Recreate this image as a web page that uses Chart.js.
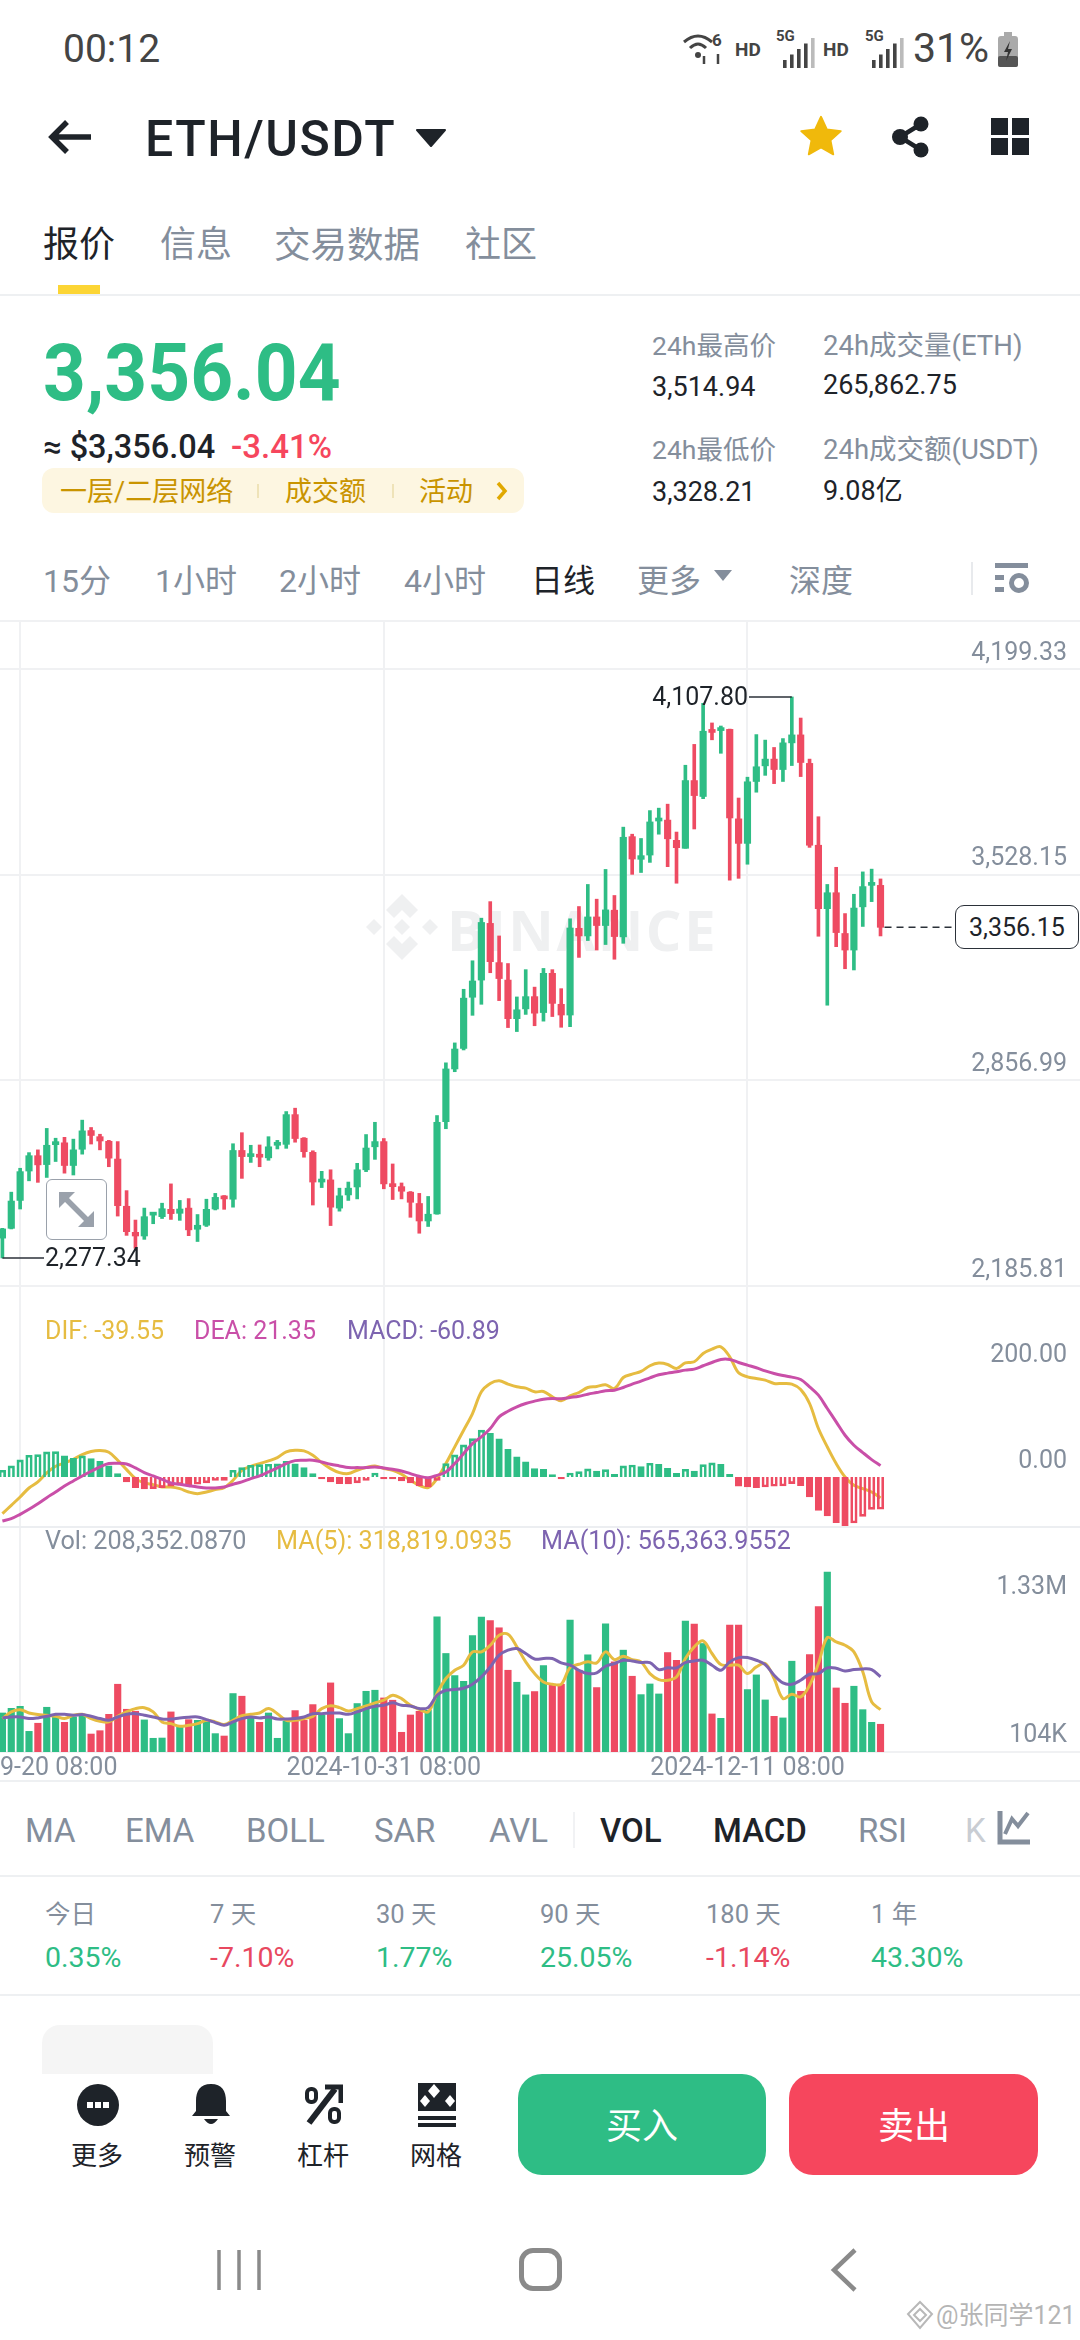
<!DOCTYPE html>
<html>
<head>
<meta charset="utf-8">
<script src="https://cdn.jsdelivr.net/npm/chart.js@4"></script>
<style>
  html, body { margin: 0; padding: 0; background: #fff; }
  #page { position: relative; width: 1080px; height: 2340px; overflow: hidden; background: #fff;
    font-family: Roboto, 'Noto Sans CJK SC', sans-serif; }
  #page canvas, #page svg, .t, .box { position: absolute; }
  .t { white-space: nowrap; transform: translateY(-50%); line-height: 1.2; }
  .box { box-sizing: border-box; }
</style>
</head>
<body>
<div id="page">
  <svg id="mark" style="left:362px;top:892px" width="80" height="70" viewBox="0 0 80 70" fill="#eff0f1">
    <path d="M40 2 L56 18 L48 26 L40 18 L32 26 L24 18 Z"/>
    <path d="M40 68 L24 52 L32 44 L40 52 L48 44 L56 52 Z"/>
    <path d="M12 27 L20 35 L12 43 L4 35 Z"/>
    <path d="M68 27 L76 35 L68 43 L60 35 Z"/>
    <path d="M40 27 L48 35 L40 43 L32 35 Z"/>
  </svg>
  <div class="t" style="left:447px;top:930px;font-size:56px;font-weight:700;letter-spacing:2.6px;color:#eff0f1;font-family:'Open Sans',Roboto">BINANCE</div>
  <canvas id="priceChart" width="1080" height="667" style="left:0;top:620px"></canvas>
  <canvas id="macdChart" width="1080" height="241" style="left:0;top:1286px"></canvas>
  <canvas id="volChart" width="1080" height="253" style="left:0;top:1527px"></canvas>
</div>

<script>
'use strict';

const GREEN = '#2EBD85';
const RED = '#EE4B62';
const GRID = '#F0F1F3';
const GRAY = '#848E9C';
const DARK = '#1E2329';
const YELLOW = '#E6BC41';
const PINK = '#C94FA8';
const PURPLE = '#7D64B0';

// daily candles, 2024-09-18 to 2024-12-26
const opens = [2342,2374,2465,2561,2611,2582,2647,2653,2579,2632,2693,2673,2658,2600,2446,2361,2349,2417,2412,2436,
  2423,2440,2371,2384,2437,2478,2469,2628,2608,2612,2604,2645,2648,2745,2668,2622,2525,2532,2440,2483,
  2509,2565,2640,2657,2518,2510,2492,2455,2398,2421,2722,2894,2961,3128,3184,3369,3241,3184,3058,3090,
  3130,3078,3206,3105,3070,3353,3328,3390,3362,3412,3325,3652,3578,3592,3703,3706,3640,3614,3835,3783,
  3997,3998,4002,3710,3630,3832,3883,3905,3871,3958,3984,3891,3624,3417,3469,3336,3282,3423,3493,3493];
const highs = [2374,2492,2570,2621,2630,2700,2668,2671,2665,2727,2703,2681,2661,2657,2497,2401,2440,2425,2456,2519,
  2465,2471,2419,2469,2488,2481,2650,2686,2645,2646,2673,2661,2755,2766,2670,2627,2560,2565,2505,2525,
  2586,2680,2720,2667,2584,2522,2494,2488,2478,2742,2914,2979,3154,3247,3386,3440,3328,3238,3129,3218,
  3161,3222,3218,3156,3384,3424,3496,3448,3545,3460,3683,3660,3646,3737,3745,3758,3667,3885,3953,4087,
  4023,4013,4003,3778,3846,3985,3967,3943,3972,4107.8,4039,3905,3717,3496,3552,3401,3464,3537,3546,3514];
const lows = [2277.34,2372,2437,2529,2524,2540,2592,2554,2548,2616,2649,2630,2575,2414,2351,2309,2338,2389,2406,2403,
  2400,2350,2331,2380,2434,2436,2443,2537,2589,2575,2596,2633,2635,2655,2606,2450,2507,2383,2430,2465,
  2470,2559,2599,2503,2468,2470,2410,2358,2380,2420,2699,2885,2956,3069,3105,3208,3117,3029,3016,3072,
  3035,3050,3065,3030,3032,3258,3313,3282,3300,3252,3304,3529,3535,3568,3660,3554,3500,3614,3677,3776,
  3968,3924,3510,3516,3562,3797,3852,3825,3832,3884,3848,3617,3327,3102,3293,3221,3217,3359,3440,3328];
const closes = [2372,2463,2559,2611,2581,2645,2654,2579,2630,2692,2677,2659,2603,2448,2363,2349,2412,2422,2438,2422,
  2437,2369,2384,2436,2475,2470,2628,2608,2615,2606,2640,2650,2745,2667,2624,2525,2532,2443,2480,2505,
  2565,2636,2657,2519,2510,2495,2459,2398,2420,2720,2894,2959,3125,3181,3372,3244,3189,3058,3087,3130,
  3076,3206,3108,3070,3354,3328,3390,3362,3413,3326,3650,3579,3590,3700,3710,3645,3616,3835,3786,3996,
  3992,4003,3713,3630,3831,3880,3905,3871,3958,3984,3894,3624,3417,3469,3339,3282,3419,3489,3500,3356.15];

const macd = [12.6,20.8,32.1,40.9,42.1,47.2,47.8,39.6,35.2,39.6,34.6,29.6,20.8,6.3,-9.4,-20.1,-22.6,-22.0,-20.1,-17.6,
  -14.5,-15.1,-13.8,-11.3,-6.3,-6.3,12.6,17.6,22.0,23.3,23.9,24.5,29.6,24.5,17.6,6.3,-3.1,-9.4,-12.6,-13.2,
  -11.3,-6.3,7.5,-3.1,-3.1,-7.5,-11.3,-17.0,-18.9,-6.3,25.2,41.5,60.4,72.3,88.1,82.4,71.7,52.2,37.7,28.3,
  15.7,14.5,4.4,-3.8,7.5,10.1,15.1,11.3,13.8,5.0,20.8,22.6,19.5,25.8,23.9,16.4,6.9,14.5,11.3,23.3,
  26.4,23.9,5.0,-17.6,-18.9,-20.1,-18.9,-17.6,-17.0,-12.6,-16.4,-37.7,-62.9,-73.6,-86.2,-94.3,-86.8,-74.2,-61.0,-60.89];
const dif = [-69.2,-53.5,-37.7,-20.8,-9.4,7.5,20.1,26.4,33.3,42.1,47.8,49.7,46.5,31.5,13.8,-3.1,-11.3,-14.5,-18.9,-18.9,
  -22.0,-28.3,-31.5,-28.3,-23.9,-20.1,-6.3,12.6,20.1,25.2,30.2,36.5,47.2,50.3,49.1,40.9,27.0,15.7,8.2,6.3,
  12.6,17.6,20.8,15.7,12.6,5.0,-6.3,-15.7,-20.1,-3.1,25.2,56.6,88.1,119.5,160.4,176.1,181.2,174.9,169.8,167.3,
  160.4,161.0,151.0,143.4,152.8,159.1,168.6,170.5,173.6,166.7,187.4,193.7,198.8,209.5,214.5,212.0,204.4,215.1,217.0,232.7,
  240.9,245.3,226.4,196.2,188.7,185.6,182.4,176.1,176.1,174.9,164.8,138.4,91.2,56.6,25.2,0,-15.7,-22.0,-28.3,-39.55];
const dea = [-83.0,-78.6,-70.4,-61.0,-50.3,-39.0,-28.3,-17.0,-7.5,1.9,10.7,18.9,25.2,25.8,24.5,17.0,8.2,1.9,-4.4,-11.3,
  -13.8,-16.4,-18.9,-20.8,-20.8,-18.9,-13.8,-9.4,-3.1,1.9,9.4,17.0,25.2,30.8,31.5,31.5,28.3,23.9,20.8,17.6,
  17.6,17.6,18.9,17.0,14.5,11.3,6.3,1.3,-1.3,3.1,9.4,25.2,44.0,62.9,75.5,91.2,113.2,123.9,132.1,138.4,
  142.8,146.6,147.8,147.2,149.7,152.2,156.0,159.1,162.3,163.5,168.6,174.9,180.5,186.8,192.5,195.6,198.1,201.3,203.2,209.5,
  215.7,221.4,221.4,215.7,210.7,205.7,200.0,195.0,191.2,188.1,183.7,169.8,154.1,128.9,103.8,78.6,59.8,45.9,32.7,21.35];

// thousands of ETH
const volumes = [293,328,343,155,216,336,263,223,263,281,135,160,283,509,321,306,241,103,105,301,
  188,243,238,226,138,120,439,419,256,223,293,103,233,311,238,356,276,519,251,138,
  364,456,464,406,389,148,278,306,313,1015,740,574,531,875,1013,988,933,614,524,429,
  454,649,509,509,990,614,730,484,963,677,765,569,431,511,436,747,689,983,960,815,
  286,253,953,953,469,579,391,268,256,682,456,732,1093,1351,481,366,494,318,223,208.352];
const ma5 = [251,301,318,293,281,276,268,251,276,283,251,231,226,268,301,326,333,301,226,213,
  193,201,213,238,226,206,238,273,283,293,326,288,238,238,251,268,326,348,333,308,
  326,346,369,389,426,401,351,321,301,439,552,614,652,752,752,802,877,885,790,677,
  589,526,509,509,634,659,677,669,752,694,720,694,677,589,544,539,564,702,790,835,
  740,657,652,652,589,639,664,552,401,434,414,501,664,860,827,802,752,602,376,318.819];
const ma10 = [256,263,263,251,256,268,283,283,276,281,268,251,238,263,283,288,276,263,248,248,
  256,261,263,243,221,201,226,251,263,256,263,248,248,251,263,288,288,293,293,283,
  301,326,343,351,369,351,346,326,333,426,464,469,479,509,564,639,727,765,777,740,
  699,702,702,669,652,614,589,594,644,664,689,684,672,672,619,632,632,672,684,689,
  652,614,677,709,709,689,657,577,519,509,539,584,589,632,629,609,619,624,619,565.364];

const dateTickIndex = [2, 43, 84];
const dateTickLabels = ['2024-09-20 08:00', '2024-10-31 08:00', '2024-12-11 08:00'];
const priceTicks = [2185.81, 2856.99, 3528.15, 4199.33];
const macdTicks = [0, 200];
const volTicks = [104, 1330];
const volTickLabels = ['104K', '1.33M'];

const isUp = closes.map((c, i) => c >= opens[i]);
const candleColors = isUp.map(up => up ? GREEN : RED);
const macdColors = macd.map(v => v >= 0 ? GREEN : RED);

function xyData(values) {
  return values.map((v, i) => ({ x: i, y: v }));
}

// x axis shared by the three panes: one candle every 8.87px, first one at 2.4px
function xAxis(showLabels) {
  return {
    type: 'linear', min: -0.27, max: 121.49, offset: false,
    afterBuildTicks: axis => { axis.ticks = dateTickIndex.map(v => ({ value: v })); },
    afterFit: s => { s.paddingLeft = 0; s.paddingRight = 0; s.height = showLabels ? 28 : 0; },
    grid: { color: GRID, lineWidth: 2, drawTicks: false, offset: false },
    border: { display: showLabels, color: GRID, width: 2 },
    ticks: {
      display: showLabels, autoSkip: false, maxRotation: 0, minRotation: 0, padding: 2,
      color: GRAY, font: { family: 'Roboto', size: 25 },
      callback: v => dateTickLabels[dateTickIndex.indexOf(v)]
    }
  };
}

function yAxis(min, max, ticks, labelFn, showGrid, lineHeightFn) {
  return {
    position: 'right', min: min, max: max,
    afterBuildTicks: axis => { axis.ticks = ticks.map(v => ({ value: v })); },
    afterFit: s => { s.paddingTop = 0; s.paddingBottom = 0; s.width = 0; },
    grid: { display: showGrid, color: GRID, lineWidth: 2, drawTicks: false },
    border: { display: false },
    ticks: {
      mirror: true, padding: -13, color: GRAY,
      font: c => ({ family: 'Roboto', size: 25, lineHeight: lineHeightFn(c.index) }),
      callback: labelFn
    }
  };
}

function baseOptions(scales) {
  return {
    responsive: false, animation: false, events: [],
    layout: { padding: 0 },
    plugins: { legend: { display: false }, tooltip: { enabled: false } },
    scales: scales
  };
}

function lineSet(values, color, order) {
  return { type: 'line', data: xyData(values), borderColor: color, borderWidth: 3, pointRadius: 0,
    tension: 0.35, order: order };
}

// high, low and last price notes on the candles
const priceNotes = {
  id: 'priceNotes',
  afterDatasetsDraw(chart) {
    const { ctx, scales: { x, y } } = chart;
    ctx.save();
    ctx.strokeStyle = '#2B3139';
    ctx.fillStyle = DARK;
    ctx.lineWidth = 1.4;
    ctx.font = '25px Roboto';
    ctx.textBaseline = 'middle';

    const hiIdx = highs.indexOf(4107.8);
    const hiY = y.getPixelForValue(highs[hiIdx]);
    ctx.beginPath();
    ctx.moveTo(x.getPixelForValue(hiIdx), hiY);
    ctx.lineTo(749, hiY);
    ctx.stroke();
    ctx.textAlign = 'right';
    ctx.fillText('4,107.80', 748, hiY + 2);

    const loIdx = lows.indexOf(2277.34);
    const loY = y.getPixelForValue(lows[loIdx]);
    ctx.beginPath();
    ctx.moveTo(x.getPixelForValue(loIdx), loY);
    ctx.lineTo(44, loY);
    ctx.stroke();
    ctx.textAlign = 'left';
    ctx.fillText('2,277.34', 45, loY + 2);

    const lastY = y.getPixelForValue(closes[closes.length - 1]);
    ctx.setLineDash([7, 5]);
    ctx.beginPath();
    ctx.moveTo(x.getPixelForValue(closes.length - 1) + 4, lastY);
    ctx.lineTo(955, lastY);
    ctx.stroke();
    ctx.restore();
  }
};

new Chart(document.getElementById('priceChart'), {
  type: 'bar',
  data: {
    datasets: [
      { data: highs.map((h, i) => ({ x: i, y: [lows[i], h] })), backgroundColor: candleColors,
        barThickness: 3, grouped: false, order: 2 },
      { data: opens.map((o, i) => ({ x: i, y: [o, closes[i]] })), backgroundColor: candleColors,
        barThickness: 6.5, minBarLength: 3, grouped: false, order: 1 }
    ]
  },
  options: baseOptions({
    x: xAxis(false),
    y: yAxis(2182.55, 4358.9, priceTicks,
      v => [v.toLocaleString('en-US', { minimumFractionDigits: 2, maximumFractionDigits: 2 }), ''],
      true, () => '31px')
  }),
  plugins: [priceNotes]
});

// hollow bar when the histogram rises against the previous day
new Chart(document.getElementById('macdChart'), {
  type: 'bar',
  data: {
    datasets: [
      lineSet(dif, YELLOW, 3),
      {
        data: xyData(macd), barThickness: 6.5, grouped: false, order: 2, borderWidth: 2,
        backgroundColor: macd.map((v, i) => (i === 0 || v > macd[i - 1]) ? 'rgba(255,255,255,0)' : macdColors[i]),
        borderColor: macdColors, minBarLength: 2
      },
      lineSet(dea, PINK, 1)
    ]
  },
  options: baseOptions({
    x: xAxis(false),
    y: yAxis(-94.3, 359.8, macdTicks, v => [v.toFixed(2), ''], false, () => '31px')
  })
});

new Chart(document.getElementById('volChart'), {
  type: 'bar',
  data: {
    datasets: [
      { data: xyData(volumes), backgroundColor: candleColors, barThickness: 6.5, grouped: false, order: 3 },
      lineSet(ma5, YELLOW, 2),
      lineSet(ma10, PURPLE, 1)
    ]
  },
  options: baseOptions({
    x: xAxis(true),
    y: yAxis(0, 1690, volTicks,
      (v, i) => i === 0 ? [volTickLabels[0], ''] : ['', volTickLabels[1]],
      false, i => i === 0 ? '5px' : '26px')
  })
});

// ---- the app screen around the chart ----
const page = document.getElementById('page');

function text(str, x, cy, size, color, weight, extra) {
  const el = document.createElement('div');
  el.className = 't';
  el.textContent = str;
  el.style.cssText = `left:${x}px;top:${cy}px;font-size:${size}px;color:${color};font-weight:${weight || 400};${extra || ''}`;
  page.appendChild(el);
}

function box(x, y, w, h, css) {
  const el = document.createElement('div');
  el.className = 'box';
  el.style.cssText = `left:${x}px;top:${y}px;width:${w}px;height:${h}px;${css}`;
  page.appendChild(el);
}

function icon(x, y, w, h, viewBox, body) {
  page.insertAdjacentHTML('beforeend',
    `<svg style="left:${x}px;top:${y}px" width="${w}" height="${h}" viewBox="${viewBox}">${body}</svg>`);
}

// status bar
text('00:12', 63, 49, 39, '#444');
icon(682, 30, 46, 38, '0 0 46 38', '<g fill="none" stroke="#444" stroke-width="3"><path d="M2 12 Q16 0 30 12"/><path d="M8 18 Q16 10 24 18"/></g><circle cx="16" cy="25" r="3" fill="#444"/><path d="M22 34 L22 26 M36 34 L36 24" stroke="#444" stroke-width="2.5"/>');
text('6', 712, 40, 17, '#444', 700);
text('HD', 735, 50, 19, '#444', 700);
text('5G', 776, 36, 15, '#444', 700);
text('HD', 823, 50, 19, '#444', 700);
text('5G', 865, 36, 15, '#444', 700);
[783, 872].forEach(x0 => {
  icon(x0, 38, 34, 30, '0 0 34 30',
    [0, 1, 2, 3, 4].map(k => `<rect x="${k * 7}" y="${22 - k * 5.5}" width="3.6" height="${8 + k * 5.5}" fill="${k === 4 ? '#bbb' : '#444'}"/>`).join(''));
});
text('31%', 913, 49, 41, '#444');
icon(997, 32, 22, 36, '0 0 22 36', '<rect x="7" y="0" width="8" height="4" fill="#aaa"/><rect x="1" y="4" width="20" height="31" rx="3" fill="#aaa"/><rect x="1" y="24" width="20" height="11" rx="2" fill="#555"/><path d="M13 9 L7 20 L11 20 L9 29 L15 17 L11 17 Z" fill="#333"/>');

// header
icon(47, 118, 46, 38, '0 0 46 38', `<path d="M20 4 L5 19 L20 34 M6 19 L44 19" fill="none" stroke="${DARK}" stroke-width="5.5"/>`);
text('ETH/USDT', 145, 139, 50, DARK, 500, 'letter-spacing:1.5px');
icon(416, 129, 30, 18, '0 0 30 18', `<path d="M1 1 L29 1 L15 17 Z" fill="${DARK}" stroke="${DARK}" stroke-linejoin="round" stroke-width="2"/>`);
icon(799, 114, 44, 44, '0 0 24 24', '<path d="M12 1.5 L15.2 8.4 L22.8 9.3 L17.2 14.4 L18.7 22 L12 18.2 L5.3 22 L6.8 14.4 L1.2 9.3 L8.8 8.4 Z" fill="#F0B90B" stroke="#F0B90B" stroke-linejoin="round"/>');
icon(891, 116, 42, 42, '0 0 42 42', `<g fill="${DARK}"><circle cx="30" cy="8" r="7.5"/><circle cx="30" cy="34" r="7.5"/><circle cx="9" cy="21" r="8"/></g><path d="M30 8 L9 21 L30 34" fill="none" stroke="${DARK}" stroke-width="4.5"/>`);
icon(991, 118, 38, 37, '0 0 38 37', `<g fill="${DARK}"><rect width="17" height="17"/><rect x="21" width="17" height="17"/><rect y="20" width="17" height="17"/><rect x="21" y="20" width="17" height="17"/></g>`);

// tabs
text('报价', 43, 246, 36, DARK);
text('信息', 160, 246, 36, GRAY);
text('交易数据', 274, 246, 36.5, GRAY);
text('社区', 465, 246, 36, GRAY);
box(58, 285, 42, 9, 'background:#FCD535');
box(0, 294, 1080, 1.5, 'background:#EEF0F2');

// quote
text('3,356.04', 43, 373, 80, GREEN, 700, 'transform:translateY(-50%) scaleX(0.935);transform-origin:left center');
text('≈ $3,356.04', 43, 447, 32.5, DARK, 500);
text('-3.41%', 231, 447, 33, '#F6465D', 500);
box(42, 468, 482, 45, 'background:#FDF6E1;border-radius:12px');
text('一层/二层网络', 60, 492, 27, '#C99400');
text('成交额', 285, 492, 27, '#C99400');
text('活动', 419, 492, 27, '#C99400');
box(257, 484, 1.5, 14, 'background:#EFE3B8');
box(392, 484, 1.5, 14, 'background:#EFE3B8');
icon(496, 481, 12, 20, '0 0 12 20', '<path d="M2 2 L9 10 L2 18" fill="none" stroke="#E0A800" stroke-width="3.5"/>');

text('24h最高价', 652, 346, 26.5, GRAY);
text('3,514.94', 652, 387, 27, DARK);
text('24h成交量(ETH)', 823, 345, 27.5, GRAY);
text('265,862.75', 823, 385, 27, DARK);
text('24h最低价', 652, 450, 26.5, GRAY);
text('3,328.21', 652, 492, 27, DARK);
text('24h成交额(USDT)', 823, 449, 27.5, GRAY);
text('9.08亿', 823, 491, 27, DARK);

// intervals
text('15分', 43, 581, 32, GRAY);
text('1小时', 155, 581, 32, GRAY);
text('2小时', 279, 581, 32, GRAY);
text('4小时', 404, 581, 32, GRAY);
text('日线', 531, 581, 32, DARK);
text('更多', 637, 581, 32, GRAY);
icon(713, 569, 20, 13, '0 0 20 13', `<path d="M1 1 L19 1 L10 12 Z" fill="${GRAY}"/>`);
text('深度', 789, 581, 32, GRAY);
box(971, 562, 1.5, 33, 'background:#E8EAED');
icon(994, 562, 36, 34, '0 0 36 34', `<g fill="${GRAY}"><rect x="1" y="1" width="33" height="5"/><rect x="1" y="13" width="9" height="5"/><rect x="1" y="25" width="9" height="5"/></g><circle cx="25" cy="21" r="7.5" fill="none" stroke="${GRAY}" stroke-width="5"/>`);
box(0, 620, 1080, 1.5, `background:${GRID}`);

// overlays on the chart
box(955, 905, 124, 44, 'background:#fff;border:1.5px solid #2B3139;border-radius:9px');
text('3,356.15', 969, 928, 25, DARK);
box(46, 1179, 61, 61, 'background:#fff;border:1.5px solid #9AA1AB;border-radius:6px');
icon(58, 1191, 37, 37, '0 0 37 37', '<g fill="#9AA1AB"><path d="M1 1 L17 1 L1 17 Z"/><path d="M36 36 L20 36 L36 20 Z"/></g><path d="M6 6 L31 31" stroke="#9AA1AB" stroke-width="5.5"/>');

// indicator captions
text('DIF: -39.55', 45, 1331, 25, YELLOW);
text('DEA: 21.35', 194, 1331, 25, PINK);
text('MACD: -60.89', 347, 1331, 25, PURPLE);
text('Vol: 208,352.0870', 45, 1541, 25.2, GRAY);
text('MA(5): 318,819.0935', 276, 1541, 25.2, YELLOW);
text('MA(10): 565,363.9552', 541, 1541, 25.2, PURPLE);
box(0, 1525.5, 1080, 2, 'background:#ECEEF1');
box(0, 1780, 1080, 1.5, 'background:#EEF0F2');

// indicator row
text('MA', 25, 1831, 33, GRAY);
text('EMA', 125, 1831, 33, GRAY);
text('BOLL', 246, 1831, 33, GRAY);
text('SAR', 374, 1831, 33, GRAY);
text('AVL', 489, 1831, 33, GRAY);
box(573, 1812, 1.5, 36, 'background:#F1F2F4');
text('VOL', 600, 1831, 33, DARK, 500);
text('MACD', 713, 1831, 33, DARK, 500);
text('RSI', 858, 1831, 33, GRAY);
text('K', 965, 1831, 33, '#C9CDD3');
icon(997, 1810, 34, 36, '0 0 34 36', `<path d="M3 1 L3 32 L33 32" fill="none" stroke="${GRAY}" stroke-width="5"/><path d="M8 24 L15 9 L21 16 L31 3" fill="none" stroke="${GRAY}" stroke-width="4"/>`);
box(0, 1875, 1080, 2, 'background:#EEF0F2');

// period changes
const periodLabels = ['今日', '7 天', '30 天', '90 天', '180 天', '1 年'];
const periodValues = ['0.35%', '-7.10%', '1.77%', '25.05%', '-1.14%', '43.30%'];
const periodX = [45, 210, 376, 540, 706, 871];
periodLabels.forEach((s, i) => {
  text(s, periodX[i], 1914, 25.5, GRAY);
  text(periodValues[i], periodX[i], 1958, 28.5, periodValues[i][0] === '-' ? '#E8485F' : GREEN);
});
box(0, 1994, 1080, 1.5, 'background:#EEF0F2');
box(42, 2025, 171, 49, 'background:#F5F5F5;border-radius:18px 18px 0 0');

// trade bar
icon(76, 2083, 44, 44, '0 0 44 44', `<circle cx="22" cy="22" r="21" fill="${DARK}"/><g fill="#fff"><rect x="11" y="19" width="6" height="6"/><rect x="19" y="19" width="6" height="6"/><rect x="27" y="19" width="6" height="6"/></g>`);
icon(191, 2083, 40, 44, '0 0 40 44', `<path d="M20 1 C9 1 5 8 5 18 L5 28 L1 33 L39 33 L35 28 L35 18 C35 8 31 1 20 1 Z" fill="${DARK}"/><path d="M13 36 Q20 46 27 36 Z" fill="${DARK}"/>`);
icon(305, 2083, 38, 44, '0 0 38 44', `<g fill="none" stroke="${DARK}"><path d="M4 40 L30 6" stroke-width="6"/><path d="M20 4 L36 4 L36 20" stroke-width="5"/><rect x="2" y="6" width="9" height="13" stroke-width="4" rx="4"/><rect x="25" y="26" width="9" height="13" stroke-width="4" rx="4"/></g>`);
icon(418, 2083, 38, 44, '0 0 38 44', `<rect x="0" y="0" width="38" height="28" fill="${DARK}"/><g fill="#fff"><path d="M8 0 L14 7 L8 14 L2 7 Z" transform="translate(8,1)"/><path d="M6 0 L11 6 L6 12 L1 6 Z" transform="translate(1,12)"/><path d="M6 0 L11 6 L6 12 L1 6 Z" transform="translate(26,12)"/></g><rect y="33" width="38" height="4" fill="${DARK}"/><rect y="40" width="38" height="4" fill="${DARK}"/>`);
text('更多', 71, 2157, 26, DARK);
text('预警', 184, 2157, 26, DARK);
text('杠杆', 297, 2157, 26, DARK);
text('网格', 410, 2157, 26, DARK);
box(518, 2074, 248, 101, `background:${GREEN};border-radius:24px`);
box(789, 2074, 249, 101, 'background:#F6465D;border-radius:24px');
text('买入', 606, 2128, 36, '#fff', 400);
text('卖出', 878, 2128, 36, '#fff', 400);

// nav bar
icon(216, 2248, 46, 44, '0 0 46 44', '<g stroke="#8A8A8A" stroke-width="3.5"><path d="M3 2 L3 42 M23 2 L23 42 M43 2 L43 42"/></g>');
box(519, 2248, 43, 43, 'border:5px solid #8A8A8A;border-radius:14px');
icon(829, 2248, 30, 44, '0 0 30 44', '<path d="M26 2 L5 22 L26 42" fill="none" stroke="#8A8A8A" stroke-width="4.5"/>');

// corner watermark
icon(906, 2300, 28, 30, '0 0 28 30', '<path d="M14 2 L26 14 L14 28 L2 14 Z M14 9 L20 15 L14 21 L8 15 Z" fill="none" stroke="#B8B8B8" stroke-width="2"/>');
text('@张同学121', 936, 2316, 25, '#B5B5B5');
</script>
</body>
</html>
